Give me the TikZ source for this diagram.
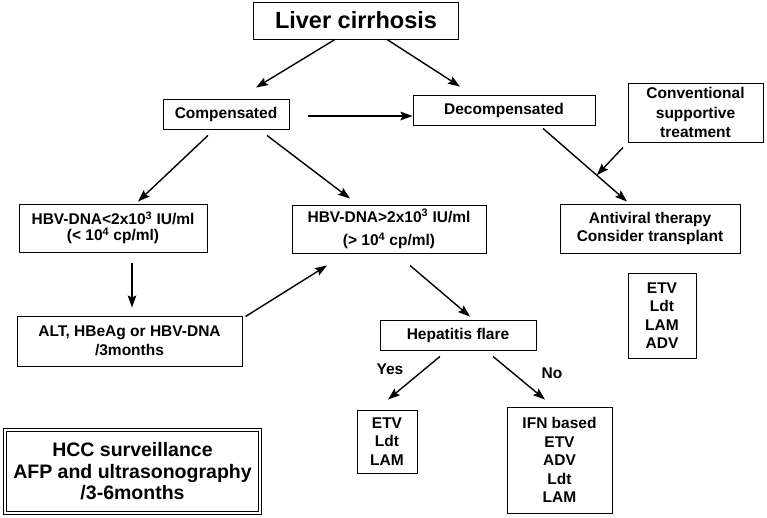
\documentclass[tikz,border=0pt]{standalone}
\usepackage{fontspec}
\setmainfont{Liberation Sans}
\usetikzlibrary{arrows.meta}
\begin{document}
\begin{tikzpicture}[x=1pt,y=-1pt,
  box/.style={draw,line width=0.9pt,inner sep=0pt,align=center,
    font=\fontsize{15.5}{18.5}\selectfont\bfseries},
  arr/.style={line width=1.4pt,-{Stealth[length=12pt,width=8.5pt,inset=2pt]}},
  lbl/.style={inner sep=0pt,font=\fontsize{15.5}{18.5}\selectfont\bfseries}]
\useasboundingbox (0,0) rectangle (767,517);

\node[box,minimum width=205,minimum height=37,font=\fontsize{23.5}{26}\selectfont\bfseries] (liver) at (356,20.5) {Liver cirrhosis};
\node[box,minimum width=126,minimum height=30] (comp) at (226,114) {Compensated};
\node[box,minimum width=182,minimum height=30] (decomp) at (504,110) {Decompensated};
\node[box,minimum width=135,minimum height=59,font=\fontsize{15.5}{19.5}\selectfont\bfseries] (conv) at (695.5,112.5) {Conventional\\supportive\\treatment};
\node[box,minimum width=180,minimum height=49] (anti) at (650,228.5) {Antiviral therapy\\Consider transplant};
\node[box,minimum width=188,minimum height=48,font=\fontsize{15.5}{16}\selectfont\bfseries] (hbvlo) at (113,228) {HBV-DNA<2x10\textsuperscript{3} IU/ml\\(< 10\textsuperscript{4} cp/ml)};
\node[box,minimum width=194,minimum height=48,font=\fontsize{15.5}{23.5}\selectfont\bfseries] (hbvhi) at (389,229) {HBV-DNA>2x10\textsuperscript{3} IU/ml\\(> 10\textsuperscript{4} cp/ml)};
\node[box,minimum width=225,minimum height=50] (alt) at (129.5,341) {ALT, HBeAg or HBV-DNA\\/3months};
\node[box,double,double distance=2.4pt,line width=0.8pt,minimum width=255,minimum height=83,font=\fontsize{19.5}{21.5}\selectfont\bfseries] (hcc) at (132.5,471.5) {HCC surveillance\\AFP and ultrasonography\\/3-6months};
\node[box,minimum width=156,minimum height=30] (flare) at (458,335) {Hepatitis flare};
\node[box,minimum width=60,minimum height=63] (yes) at (387,441.5) {ETV\\Ldt\\LAM};
\node[box,minimum width=105,minimum height=106] (ifn) at (559.5,460) {IFN based\\ETV\\ADV\\Ldt\\LAM};
\node[box,minimum width=68,minimum height=85] (etvr) at (662,315.5) {ETV\\Ldt\\LAM\\ADV};

\draw[arr] ([xshift=-21pt]liver.south) -- ([xshift=30pt,yshift=11pt]comp.north);
\draw[arr] ([xshift=31pt]liver.south) -- ([xshift=-44pt,yshift=8pt]decomp.north);
\draw[arr] ([xshift=19pt,yshift=-2pt]comp.east) -- ([xshift=0pt,yshift=-6pt]decomp.west);
\draw[arr] ([xshift=-18pt,yshift=-6pt]comp.south) -- ([xshift=25pt,yshift=2pt]hbvlo.north);
\draw[arr] ([xshift=41pt,yshift=-6pt]comp.south) -- ([xshift=-39pt,yshift=6pt]hbvhi.north);
\draw[arr] ([xshift=39pt,yshift=-3pt]decomp.south) -- coordinate[pos=0.64] (mid) ([xshift=-23pt,yshift=2pt]anti.north);
\draw[arr] ([xshift=-72.5pt,yshift=-5pt]conv.south) -- (mid);
\draw[arr] ([xshift=19pt,yshift=-11pt]hbvlo.south) -- ([xshift=2.5pt,yshift=8pt]alt.north);
\draw[arr] ([xshift=3pt,yshift=-1pt]alt.north east) -- ([xshift=-62pt,yshift=-12pt]hbvhi.south);
\draw[arr] ([xshift=21pt,yshift=-12pt]hbvhi.south) -- ([xshift=12pt,yshift=3pt]flare.north);
\draw[arr] ([xshift=-18pt,yshift=-6pt]flare.south) -- ([xshift=1pt,yshift=10pt]yes.north);
\draw[arr] ([xshift=35pt,yshift=-6pt]flare.south) -- ([xshift=-14.5pt,yshift=7pt]ifn.north);

\node[lbl] (yeslbl) at (390,369) {Yes};
\node[lbl] (nolbl) at (552,373) {No};
\end{tikzpicture}
\end{document}
